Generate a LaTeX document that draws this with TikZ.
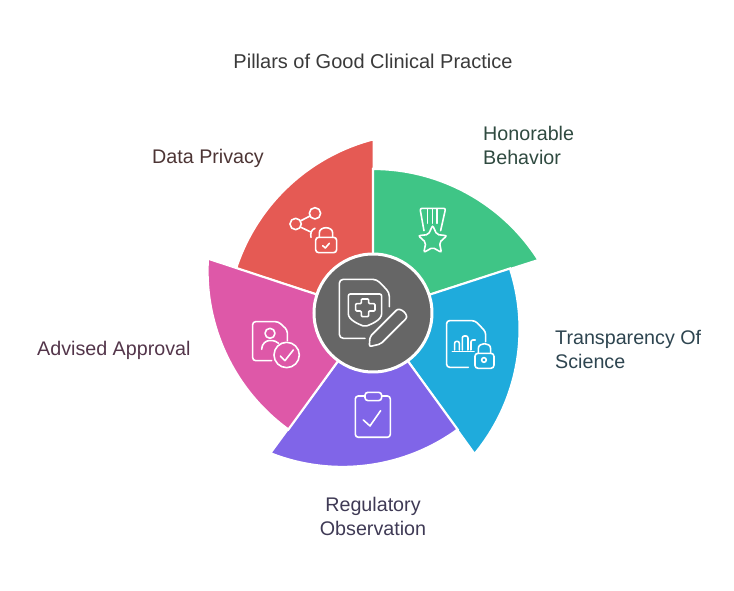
\documentclass[tikz,border=0pt]{standalone}
\usepackage{fontspec}
\setmainfont{Liberation Sans}
\usetikzlibrary{shapes.geometric}
\definecolor{redseg}{HTML}{E55A54}
\definecolor{greenseg}{HTML}{3FC586}
\definecolor{blueseg}{HTML}{1FABDC}
\definecolor{purpleseg}{HTML}{8065E8}
\definecolor{pinkseg}{HTML}{DE58A8}
\definecolor{titletext}{HTML}{3A3A3A}
\definecolor{redtext}{HTML}{4D3535}
\definecolor{greentext}{HTML}{2F4A40}
\definecolor{bluetext}{HTML}{2E4550}
\definecolor{purpletext}{HTML}{3F3A55}
\definecolor{pinktext}{HTML}{53354A}
\tikzstyle{segment}=[draw=white,line width=2.2pt,line join=miter]
\tikzstyle{hubcircle}=[circle,fill=black!60,draw=white,line width=3pt,minimum size=118pt,inner sep=0pt]
\tikzstyle{icon}=[draw=white,line width=1.6pt,line join=round,line cap=round,rounded corners=2pt]
\tikzstyle{label}=[font=\fontsize{19.7}{24}\selectfont,align=left,inner sep=0pt]

\begin{document}
\begin{tikzpicture}[x=1pt,y=1pt]
    \useasboundingbox (-373,-278) rectangle (361,313);

    % Wheel segments
    \foreach \ang/\col in {162/redseg, 90/greenseg, 18/blueseg, -54/purpleseg, -126/pinkseg}
        \path[segment,fill=\col] (0,0) -- (\ang:144) arc[start angle=\ang,delta angle=-57.6,radius=196] -- cycle;

    \node[hubcircle] (hub) at (0,0) {};

    % Labels
    \node[label,anchor=center,text=titletext,font=\fontsize{20}{24}\selectfont] (title) at (0,252) {Pillars of Good Clinical Practice};
    \node[label,anchor=west,text=redtext] (privacy) at (-221,155) {Data Privacy};
    \node[label,anchor=west,text=greentext] (honor) at (110,168) {Honorable\\Behavior};
    \node[label,anchor=west,text=bluetext] (transp) at (182,-36) {Transparency Of\\Science};
    \node[label,anchor=north,align=center,text=purpletext] (regul) at (0,-184.5) {Regulatory\\Observation};
    \node[label,anchor=west,text=pinktext] (advised) at (-336,-37.5) {Advised Approval};

    % Icons, written in 1/3 pixels
    \begin{scope}[shift={(-173,183)},x=0.3333pt,y=-0.3333pt]
        % hub: document, shield, pencil
        \draw[icon,rounded corners=4pt] (495,625) -- (418,625) -- (418,448) -- (530,448) -- (568,487) -- (568,530);
        \draw[icon] (445,492) -- (545,492) -- (545,545) .. controls (545,570) and (515,582) .. (495,590) .. controls (475,582) and (445,570) .. (445,545) -- cycle;
        \draw[icon,rounded corners=1pt] (484,507) -- (506,507) -- (506,521) -- (525,521) -- (525,543) -- (506,543) -- (506,560) -- (484,560) -- (484,543) -- (467,543) -- (467,521) -- (484,521) -- cycle;
        \draw[icon] (510,620) -- (585,545) .. controls (600,530) and (630,555) .. (612,572) -- (542,642) -- (508,650) -- cycle;
        % red: share and lock
        \draw[icon] (345,250) circle (17) (287,282) circle (17);
        \draw[icon] (303,272) -- (330,258) (303,292) -- (330,305) (345,295) .. controls (335,298) and (330,310) .. (333,322);
        \draw[icon,rounded corners=3pt] (347,322) rectangle (410,368);
        \draw[icon] (358,322) -- (358,315) .. controls (358,288) and (398,288) .. (398,315) -- (398,322);
        \draw[icon,rounded corners=0pt] (368,347) -- (376,354) -- (388,340);
        % green: medal
        \draw[icon] (672,302) -- (660,235) -- (737,235) -- (722,302);
        \draw[icon] (683,238) -- (683,280) (697,238) -- (697,280) (711,238) -- (711,280);
        \node[star,star points=5,star point ratio=2.1,draw=white,line width=1.6pt,rounded corners=2pt,minimum size=30pt,inner sep=0pt] (medalstar) at (698,331) {};
        % blue: document, bars, lock
        \draw[icon,rounded corners=3pt] (805,712) -- (740,712) -- (740,572) -- (825,572) -- (857,605) -- (857,635);
        \draw[icon] (757,665) -- (822,665);
        \draw[icon] (764,660) -- (764,634) -- (778,634) -- (778,660) (787,660) -- (787,618) -- (804,618) -- (804,660) (813,660) -- (813,630) -- (826,630);
        \draw[icon,rounded corners=3pt] (825,670) rectangle (882,715);
        \draw[icon] (835,670) -- (835,662) .. controls (835,636) and (872,636) .. (872,662) -- (872,670);
        \draw[icon] (852,690) circle (7);
        % purple: clipboard
        \draw[icon,rounded corners=3pt] (495,798) -- (466,798) -- (466,922) -- (571,922) -- (571,798) -- (545,798);
        \draw[icon,rounded corners=3pt] (495,787) rectangle (545,812);
        \draw[icon,rounded corners=0pt] (490,870) -- (510,888) -- (542,842);
        % pink: document, person, check
        \draw[icon,rounded corners=3pt] (215,692) -- (158,692) -- (158,575) -- (235,575) -- (262,600) -- (262,632);
        \draw[icon] (210,610) circle (15);
        \draw[icon] (185,658) .. controls (185,640) and (200,632) .. (212,632) .. controls (222,632) and (230,635) .. (236,640);
        \draw[icon] (260,675) circle (38);
        \draw[icon,rounded corners=0pt] (241,678) -- (255,692) -- (280,660);
    \end{scope}
\end{tikzpicture}
\end{document}
